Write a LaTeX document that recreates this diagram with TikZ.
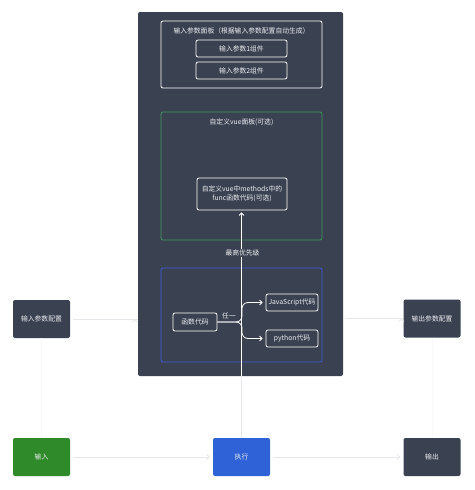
\documentclass[tikz,border=0pt]{standalone}
\usepackage{fontspec}
\setmainfont{Noto Sans CJK SC}
\usetikzlibrary{arrows.meta}
\definecolor{panelc}{HTML}{3A4150}
\definecolor{greenb}{HTML}{3F9A5F}
\definecolor{blueb}{HTML}{3D5CE0}
\definecolor{conn}{HTML}{E6E8EB}
\definecolor{faint}{HTML}{F9F9FA}
\definecolor{ingreen}{HTML}{2F8A2A}
\definecolor{exblue}{HTML}{2F62D6}
\definecolor{txt}{HTML}{EDEFF2}
\tikzset{
  x=1pt, y=-1pt,
  fnt/.style={font=\fontsize{6.8}{8.5}\selectfont},
  wbox/.style={draw=white, line width=0.8pt, rounded corners=2pt, text=txt, fnt, inner sep=0pt, align=center},
  container/.style={line width=0.8pt, rounded corners=2pt, inner sep=0pt},
  solid box/.style={rounded corners=2pt, text=txt, fnt, inner sep=0pt, minimum width=57pt, minimum height=38pt},
  lbl/.style={text=txt, fnt, inner sep=1pt},
  garrow/.style={draw=conn, line width=0.8pt, -{Straight Barb[length=2.5pt,width=5pt]}},
  warrow/.style={draw=white, line width=0.8pt, -{Straight Barb[length=2.5pt,width=5pt]}},
}
\begin{document}
\begin{tikzpicture}
\useasboundingbox[fill=white] (0,0) rectangle (474,490);
% main panel
\node[fill=panelc, rounded corners=2pt, minimum width=205pt, minimum height=364pt, inner sep=0pt] (panel) at (240.5,194) {};
% parameter panel
\node[container, draw=white, minimum width=161pt, minimum height=67pt] (ppanel) at (241.5,54.5) {};
\node[lbl] (ptitle) at (241.5,31) {输入参数面板（根据输入参数配置自动生成）};
\node[wbox, minimum width=91pt, minimum height=17pt] (p1) at (241.5,48.5) {输入参数1组件};
\node[wbox, minimum width=91pt, minimum height=17pt] (p2) at (241.5,70.5) {输入参数2组件};
% vue panel
\node[container, draw=greenb, minimum width=161pt, minimum height=128pt] (vpanel) at (241.5,176) {};
\node[lbl] (vtitle) at (241.5,122.5) {自定义vue面板(可选)};
\node[wbox, minimum width=90pt, minimum height=32pt] (inner) at (242,194) {自定义vue中methods中的\\func函数代码(可选)};
% function panel
\node[container, draw=blueb, minimum width=161pt, minimum height=94pt] (fpanel) at (241.5,315) {};
\node[wbox, minimum width=44pt, minimum height=18pt] (fn) at (195,322) {函数代码};
\node[wbox, minimum width=52pt, minimum height=17pt] (js) at (292,302.5) {JavaScript代码};
\node[wbox, minimum width=52pt, minimum height=17pt] (py) at (292,338.5) {python代码};
\coordinate (fork) at (242,322);
\node[lbl] (any) at (229,315.5) {任一};
% outside boxes
\node[solid box, fill=panelc] (inconf) at (41.5,319) {输入参数配置};
\node[solid box, fill=panelc] (outconf) at (432,318.5) {输出参数配置};
\node[solid box, fill=ingreen] (in) at (41.5,457) {输入};
\node[solid box, fill=exblue] (exec) at (241.5,457) {执行};
\node[solid box, fill=panelc] (out) at (432,457) {输出};
% connectors
\draw[garrow] (inconf.east) ++(3,0) coordinate (a1) -- (a1 -| panel.west) ++(-3,0);
\draw[garrow] (panel.east |- outconf) ++(2,0) -- (outconf.west) ++(-2,0);
\draw[draw=faint, line width=0.8pt] (inconf.south) -- (in.north);
\draw[draw=faint, line width=0.8pt] (outconf.south) -- (out.north);
\draw[garrow, shorten <=3pt, shorten >=3pt] (in.east) -- (exec.west);
\draw[garrow, shorten <=3pt, shorten >=3pt] (exec.east) -- (out.west);
\draw[draw=conn, line width=0.8pt] (exec.north) -- (panel.south -| exec.north);
\draw[warrow, shorten >=2pt] (panel.south -| exec.north) -- (exec.north |- inner.south);
\node[lbl, fill=panelc] (prio) at (242.5,253) {最高优先级};
\draw[warrow, rounded corners=6pt, shorten >=3pt] (fn.east) -- (fork) |- (js.west);
\draw[warrow, rounded corners=6pt, shorten >=3pt] (fn.east) -- (fork) |- (py.west);
\end{tikzpicture}
\end{document}
